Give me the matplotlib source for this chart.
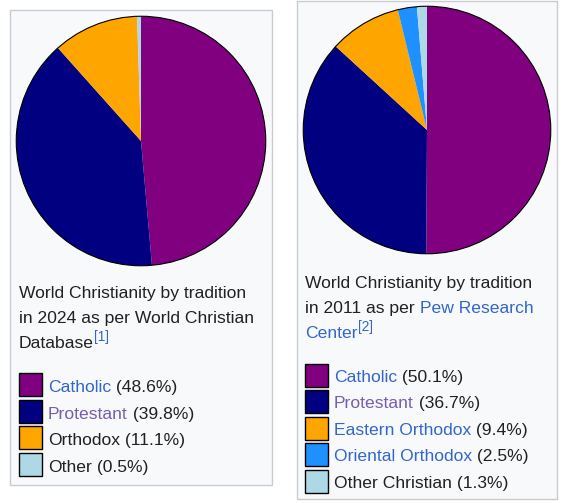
import matplotlib.pyplot as plt
from matplotlib.patches import Rectangle, Circle

plt.rcParams['font.family'] = ['Liberation Sans', 'DejaVu Sans']

# 2024 - World Christian Database
labels_2024 = ["Catholic", "Protestant", "Orthodox", "Other"]
values_2024 = [48.6, 39.8, 11.1, 0.5]
colors_2024 = ["#800080", "#000080", "#ffa500", "#add8e6"]

# 2011 - Pew Research Center
labels_2011 = ["Catholic", "Protestant", "Eastern Orthodox", "Oriental Orthodox", "Other Christian"]
values_2011 = [50.1, 36.7, 9.4, 2.5, 1.3]
colors_2011 = ["#800080", "#000080", "#ffa500", "#1e90ff", "#add8e6"]

TXT = "#202122"
LINK = "#3366cc"
VISITED = "#795cb2"
link_2024 = [LINK, VISITED, TXT, TXT]
link_2011 = [LINK, VISITED, LINK, LINK, TXT]

W, H = 567, 503
FS = 17.5 * 72 / 100

fig = plt.figure(figsize=(W / 100, H / 100), dpi=100)
bg = fig.add_axes([0, 0, 1, 1])
bg.set_xlim(0, W)
bg.set_ylim(H, 0)
bg.axis("off")
renderer = fig.canvas.get_renderer()


def panel(x0, y0, x1, y1):
    bg.add_patch(Rectangle((x0, y0), x1 - x0, y1 - y0, facecolor="#f8f9fa",
                           edgecolor="#c8ccd1", linewidth=1))


def pie(cx, cy, r, values, colors):
    ax = fig.add_axes([(cx - r) / W, 1 - (cy + r) / H, 2 * r / W, 2 * r / H])
    ax.pie(values, colors=colors, startangle=90, counterclock=False,
           wedgeprops=dict(linewidth=0))
    ax.add_patch(Circle((0, 0), 1, fill=False, edgecolor="black", linewidth=0.8))
    ax.set_xlim(-1.01, 1.01)
    ax.set_ylim(-1.01, 1.01)
    ax.set_aspect("equal")
    ax.axis("off")


def line(x, y, parts):
    # parts: (text, colour, superscript?)
    for s, c, sup in parts:
        t = bg.text(x, y - (7 if sup else 0), s, color=c,
                    fontsize=FS * 0.78 if sup else FS, va="baseline", ha="left")
        x += t.get_window_extent(renderer).width


def legend(x, y_top, y_base, step, labels, values, colors, lcolors):
    for i, (lab, v, c, lc) in enumerate(zip(labels, values, colors, lcolors)):
        bg.add_patch(Rectangle((x, y_top + i * step), 23, 23, facecolor=c,
                               edgecolor="black", linewidth=1))
        line(x + 29, y_base + i * step, [(lab, lc, False), (f" ({v}%)", TXT, False)])


# left panel
panel(10, 10, 272, 485)
pie(141, 141, 126, values_2024, colors_2024)
line(19, 298, [("World Christianity by tradition", TXT, False)])
line(19, 323, [("in 2024 as per World Christian", TXT, False)])
line(19, 348, [("Database", TXT, False), ("[1]", LINK, True)])
legend(19, 373, 392, 26.7, labels_2024, values_2024, colors_2024, link_2024)

# right panel
panel(297, 1, 557, 499)
pie(427, 130, 125, values_2011, colors_2011)
line(305, 288, [("World Christianity by tradition", TXT, False)])
line(305, 313, [("in 2011 as per ", TXT, False), ("Pew Research", LINK, False)])
line(305, 338, [("Center", LINK, False), ("[2]", LINK, True)])
legend(305, 364, 382, 26.4, labels_2011, values_2011, colors_2011, link_2011)

fig.savefig("out.png", dpi=100)
